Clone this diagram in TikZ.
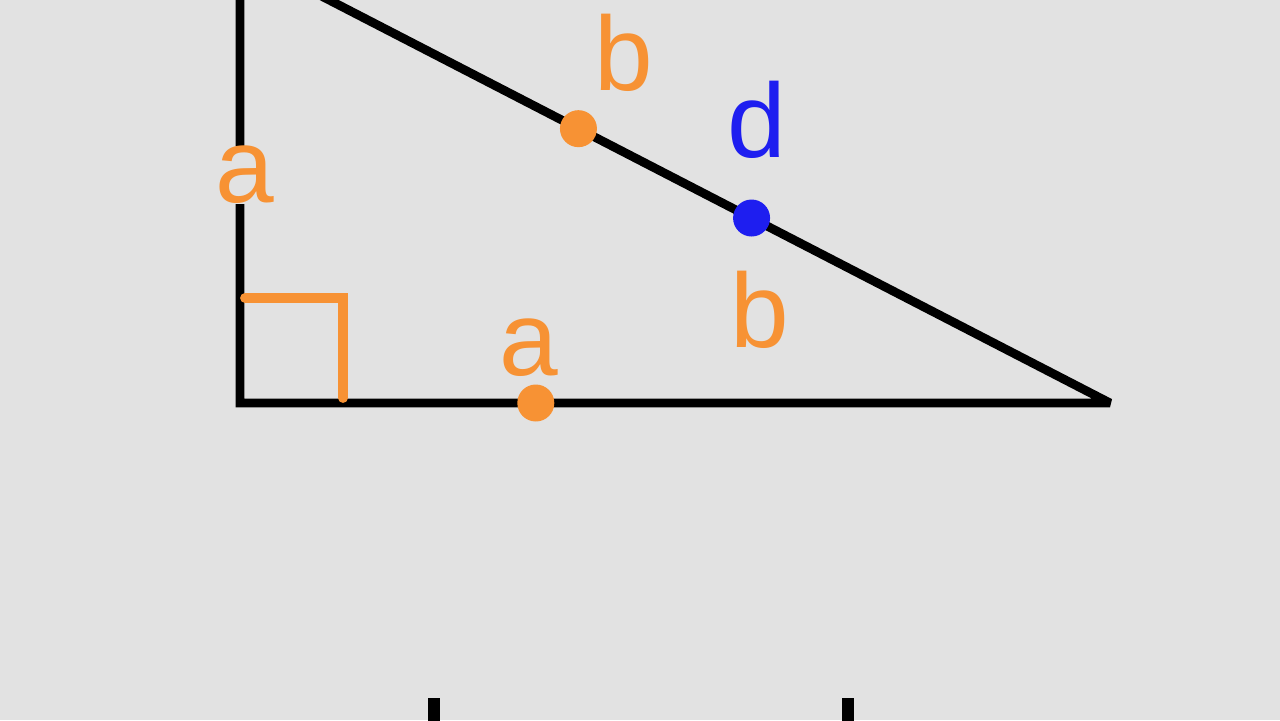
\documentclass[tikz,border=0pt]{standalone}
\usepackage{fontspec}
\setmainfont{Liberation Sans}
\usetikzlibrary{calc,positioning}
\definecolor{bgray}{RGB}{226,226,226}
\definecolor{lorange}{RGB}{247,146,52}
\definecolor{lblue}{RGB}{30,30,240}

\begin{document}
\begin{tikzpicture}[x=0.02cm,y=-0.02cm,
    edge/.style={line width=5pt,black,line join=miter,miter limit=2},
    dotstyle/.style={circle,fill=#1,minimum size=0.74cm,inner sep=0},
    lbl/.style={font=\fontsize{60}{72}\selectfont,text=#1,inner sep=0},
    marker/.style={line width=5.6pt,lorange,line cap=round}]
    \fill[bgray] (0,0) rectangle (1280,720);
    \useasboundingbox (0,0) rectangle (1280,720);
    \clip (0,0) rectangle (1280,720);
    % triangle
    \coordinate (C) at (240,-46);
    \coordinate (A) at (240,403);
    \coordinate (B) at (1110,403);
    \draw[edge] (C) -- (A) -- (B) -- cycle;
    % right angle
    \draw[marker] (245,298) -- (343,298) -- (343,398);
    % points on the sides
    \node[dotstyle=lorange] (p1) at ($(C)!0.389!(B)$) {};
    \node[dotstyle=lblue] (p2) at ($(C)!0.588!(B)$) {};
    \node[dotstyle=lorange] (p3) at ($(A)!0.340!(B)$) {};
    % labels
    \node[lbl=lorange,fill=bgray] (la) at (245,175) {a};
    \node[lbl=lorange] (lb1) at (624,53) {b};
    \node[lbl=lblue] (ld) at (757,120) {d};
    \node[lbl=lorange] (lb2) at (760,310) {b};
    \node[lbl=lorange] (la2) at (529,348) {a};
    % bottom bars
    \foreach \x in {434,848} {
        \fill[black] (\x-6,698) rectangle (\x+6,725);
    }
\end{tikzpicture}
\end{document}
